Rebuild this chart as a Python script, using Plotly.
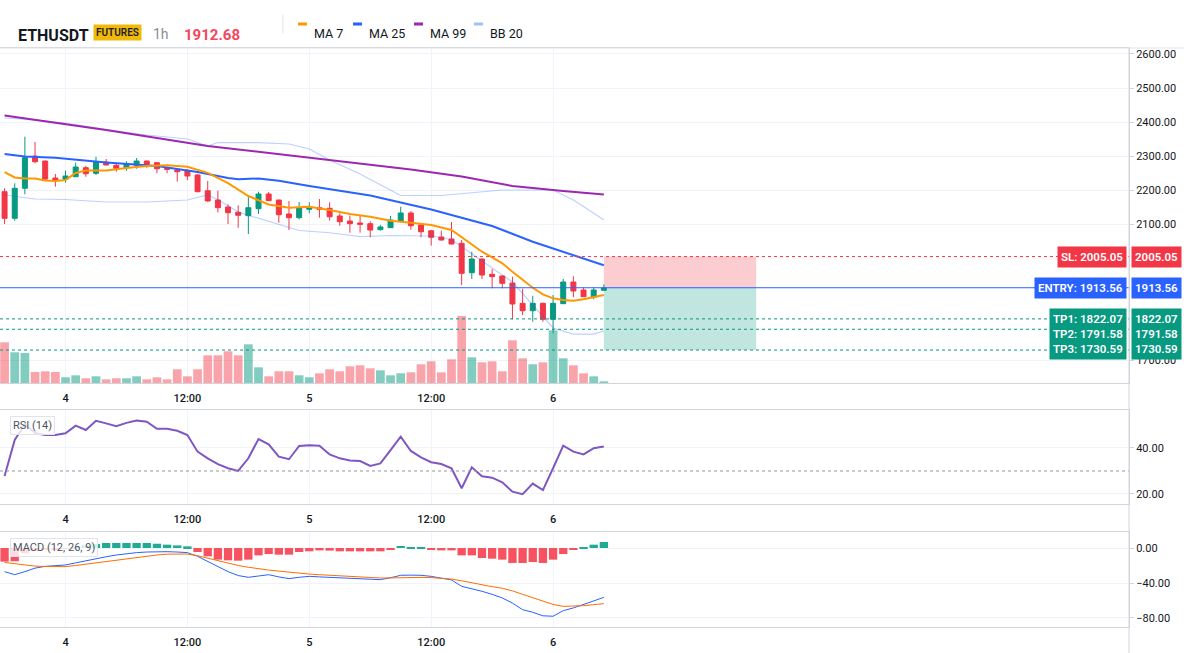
import pandas as pd
import plotly.graph_objects as go

# ---- values (hourly ETHUSDT bars) ----
first_bar = "2023-06-03 18:00"

open_ = [2195.6, 2117.4, 2205.6, 2300.4, 2285.7, 2235.8, 2232.0, 2239.6, 2266.1, 2249.6,
         2282.8, 2273.1, 2266.1, 2273.1, 2285.7, 2280.8, 2264.3, 2259.3, 2256.4, 2244.6,
         2198.5, 2171.2, 2150.6, 2135.1, 2125.1, 2145.6, 2188.8, 2171.2, 2130.1, 2119.2,
         2143.9, 2148.6, 2146.8, 2124.2, 2109.5, 2103.6, 2101.6, 2084.0, 2090.0, 2109.5,
         2133.0, 2097.8, 2081.0, 2062.5, 2056.7, 2044.0, 1957.7, 1997.9, 1953.0, 1948.0,
         1927.4, 1867.8, 1846.1, 1867.8, 1820.8, 1866.7, 1930.4, 1906.9, 1885.4, 1906.0]
high = [2205.6, 2220.3, 2357.1, 2341.6, 2287.0, 2247.6, 2257.3, 2280.8, 2272.0, 2298.4,
        2291.6, 2279.0, 2284.9, 2294.5, 2287.0, 2283.0, 2266.0, 2261.0, 2262.2, 2247.6,
        2227.0, 2198.5, 2158.6, 2155.6, 2185.9, 2195.6, 2194.7, 2172.0, 2168.3, 2165.3,
        2164.4, 2174.1, 2164.4, 2132.2, 2125.1, 2125.1, 2108.6, 2098.0, 2124.2, 2151.5,
        2138.9, 2099.0, 2082.0, 2081.0, 2106.6, 2053.7, 2019.4, 2000.0, 1968.5, 1950.0,
        1946.0, 1910.7, 1890.1, 1870.0, 1892.2, 1939.2, 1947.1, 1914.8, 1914.8, 1923.6]
low = [2100.7, 2110.4, 2187.9, 2279.0, 2227.9, 2210.3, 2222.0, 2239.0, 2239.6, 2244.6,
       2273.0, 2254.3, 2257.3, 2263.1, 2266.1, 2249.6, 2249.6, 2225.0, 2229.9, 2194.0,
       2166.2, 2135.1, 2100.7, 2089.8, 2071.3, 2130.1, 2169.0, 2104.5, 2083.0, 2114.5,
       2132.2, 2119.2, 2110.4, 2095.7, 2075.2, 2075.2, 2061.7, 2082.0, 2089.0, 2108.0,
       2084.0, 2061.7, 2037.0, 2052.0, 2041.0, 1921.6, 1939.2, 1939.2, 1911.9, 1911.9,
       1820.8, 1833.4, 1813.8, 1813.8, 1780.0, 1866.0, 1886.3, 1886.0, 1879.6, 1905.0]
close = [2117.4, 2205.6, 2295.4, 2283.7, 2232.9, 2229.0, 2241.7, 2268.1, 2248.4, 2282.8,
         2274.0, 2264.3, 2277.0, 2285.7, 2276.0, 2263.1, 2261.4, 2254.3, 2241.7, 2195.6,
         2168.3, 2148.6, 2133.9, 2126.3, 2148.6, 2188.8, 2169.3, 2128.0, 2119.2, 2147.7,
         2148.6, 2143.9, 2122.1, 2107.5, 2101.6, 2099.8, 2083.0, 2092.0, 2112.5, 2133.0,
         2095.7, 2078.1, 2061.7, 2053.7, 2042.0, 1955.9, 1997.9, 1950.9, 1946.0, 1926.6,
         1865.8, 1846.1, 1867.8, 1820.8, 1867.8, 1930.4, 1904.0, 1887.2, 1906.9, 1912.68]
# volume, thousands
volume = [40.7, 30.7, 30.0, 11.0, 11.7, 11.0, 5.7, 7.7, 4.7, 6.7,
          3.7, 4.7, 4.7, 6.7, 3.7, 5.7, 3.7, 13.7, 6.7, 13.7,
          27.7, 27.7, 31.7, 27.7, 38.7, 15.7, 6.7, 11.7, 11.7, 7.7,
          5.7, 9.7, 13.7, 11.7, 16.7, 17.7, 14.7, 12.7, 7.7, 9.7,
          10.7, 18.7, 21.7, 10.7, 23.7, 67.0, 25.7, 20.7, 21.7, 11.7,
          42.7, 24.7, 18.7, 20.7, 52.7, 24.7, 17.7, 9.7, 6.7, 1.7]

# moving averages / bands, read at selected bars (bar number, value)
ma7_idx = [0, 1, 2, 3, 4, 5, 6, 7, 8, 10, 12, 14, 16, 18, 20, 22, 24, 26, 28, 30, 32, 34, 36,
           38, 40, 42, 44, 45, 46, 47, 48, 49, 50, 51, 52, 53, 54, 55, 56, 57, 58, 59]
ma7 = [2253.4, 2237.3, 2234.3, 2234.3, 2228.5, 2227.0, 2229.9, 2250.5, 2257.8, 2257.8, 2265.2,
       2271.1, 2273.1, 2269.0, 2251.0, 2221.0, 2183.0, 2158.0, 2148.6, 2151.5, 2142.0, 2130.0,
       2122.0, 2110.5, 2104.5, 2097.8, 2083.0, 2061.7, 2039.0, 2019.4, 2002.9, 1985.3, 1960.6,
       1936.2, 1913.6, 1894.2, 1882.5, 1877.5, 1875.4, 1879.6, 1885.4, 1892.2]
ma25_idx = [0, 2, 5, 10, 15, 19, 22, 23, 25, 27, 30, 36, 42, 48, 52, 56, 59]
ma25 = [2306.3, 2298.9, 2295.4, 2281.3, 2271.1, 2253.4, 2236.0, 2232.0, 2234.3, 2228.0,
        2212.3, 2184.4, 2143.3, 2094.8, 2048.7, 2008.8, 1979.4]
ma99_idx = [0, 10, 20, 30, 40, 45, 50, 55, 59]
ma99 = [2419.4, 2376.8, 2329.8, 2295.4, 2260.8, 2240.2, 2212.3, 2198.0, 2187.4]
bbu_idx = [0, 3, 6, 10, 14, 18, 20, 21, 25, 28, 30, 32, 35, 37, 39, 43, 46, 49, 54, 56, 58, 59]
bbu = [2412.0, 2406.2, 2397.4, 2378.3, 2362.1, 2350.4, 2329.8, 2340.1, 2339.5, 2335.7, 2321.0,
       2288.7, 2247.6, 2215.0, 2184.4, 2184.4, 2193.3, 2200.6, 2200.6, 2171.0, 2132.2, 2112.5]
bbl_idx = [0, 3, 6, 10, 14, 18, 20, 21, 23, 25, 27, 29, 32, 35, 38, 42, 44, 46, 48, 50, 52,
           54, 56, 58, 59]
bbl = [2185.9, 2174.1, 2172.7, 2165.3, 2165.3, 2171.2, 2185.9, 2172.7, 2135.6, 2118.3, 2100.7,
       2081.6, 2075.1, 2063.9, 2066.9, 2065.5, 2055.2, 2012.6, 1971.5, 1930.4, 1862.8, 1795.3,
       1777.6, 1777.6, 1786.5]

rsi = [27.8, 43.5, 50.3, 46.5, 45.6, 45.6, 46.4, 49.7, 47.8, 51.8,
       50.7, 49.5, 50.9, 51.9, 51.4, 48.3, 48.3, 47.5, 45.6, 38.4,
       35.5, 33.0, 31.2, 30.0, 35.5, 43.9, 41.6, 36.2, 35.1, 40.9,
       41.2, 41.0, 37.2, 35.5, 34.6, 34.3, 32.2, 33.3, 39.1, 44.9,
       38.7, 35.9, 33.8, 33.0, 31.2, 22.5, 31.6, 27.7, 27.1, 25.1,
       21.0, 19.9, 24.5, 21.7, 31.2, 41.0, 38.4, 37.2, 39.9, 40.6]
macd = [-27.0, -30.5, -27.0, -23.0, -21.0, -20.0, -19.4, -17.0, -14.5, -12.5,
        -10.0, -8.0, -6.5, -5.3, -4.6, -4.3, -4.2, -4.6, -5.3, -9.5,
        -15.5, -21.5, -27.0, -31.5, -33.5, -32.0, -30.5, -33.0, -35.0, -33.5,
        -32.4, -33.0, -33.5, -34.5, -35.0, -35.8, -36.2, -36.2, -34.0, -31.2,
        -31.0, -31.2, -32.4, -34.5, -36.5, -43.8, -46.5, -49.5, -53.0, -57.1,
        -63.0, -70.5, -73.5, -77.5, -78.0, -71.6, -68.5, -64.8, -60.5, -56.4]
signal = [-16.5, -18.0, -19.8, -20.7, -21.1, -21.3, -21.3, -20.0, -18.5, -16.8,
          -15.0, -13.3, -11.8, -10.5, -9.3, -8.0, -7.0, -6.8, -6.9, -8.8,
          -11.5, -14.5, -17.5, -20.0, -22.0, -23.8, -25.2, -26.4, -27.8, -29.0,
          -29.8, -30.5, -31.2, -32.0, -32.5, -33.2, -34.0, -34.3, -34.2, -33.8,
          -33.5, -33.6, -33.8, -34.3, -35.5, -37.5, -40.0, -42.0, -44.2, -46.0,
          -49.0, -53.0, -57.0, -61.0, -64.5, -66.7, -66.5, -65.9, -64.8, -63.6]
hist = [-15.6, -15.2, -6.0, -3.5, -2.0, -1.2, -0.6, 1.5, 3.0, 4.5,
        5.7, 5.7, 5.7, 5.7, 5.7, 4.9, 3.8, 3.0, 1.9, -4.6,
        -9.5, -13.3, -14.1, -14.5, -13.3, -8.4, -6.9, -7.6, -7.6, -4.6,
        -3.8, -2.7, -3.0, -3.8, -3.8, -3.8, -3.8, -3.8, -1.5, 2.3,
        1.1, 1.1, -1.9, -2.7, -2.7, -8.4, -8.4, -11.4, -12.2, -13.3,
        -17.1, -17.1, -16.0, -17.1, -13.3, -6.9, -1.9, 1.1, 3.8, 6.9]

# trade levels
sl, entry = 2005.05, 1913.56
tps = [1822.07, 1791.58, 1730.59]

price_ticks = [1700, 2100, 2200, 2300, 2400, 2500, 2600]
tick_times = ["2023-06-04 00:00", "2023-06-04 12:00", "2023-06-05 00:00",
              "2023-06-05 12:00", "2023-06-06 00:00"]
tick_text = ["4", "12:00", "5", "12:00", "6"]

# ---- style ----
W, H = 1184, 653
ML, MR, MT, MB = 0, 55, 48, 26
UP, DOWN = "#089981", "#f23645"
BLUE = "#2962ff"
FONT = "Roboto"
TXT = "#131722"
GRID = "#f0f3fa"
LINE = "#d1d4dc"
rr_bars = 15  # width of the risk/reward box, in bars


def px(x):
    return (x - ML) / (W - ML - MR)


def py(y):
    return (H - MB - y) / (H - MT - MB)


t = pd.date_range(first_bar, periods=len(close), freq="h")
hour = pd.Timedelta(hours=1)
ms_hour = 3600 * 1000


def at(idx):
    return [t[i] for i in idx]


fig = go.Figure()

# volume underneath the candles
vcol = ["rgba(8,153,129,0.5)" if c >= o else "rgba(242,54,69,0.45)" for o, c in zip(open_, close)]
fig.add_bar(x=t, y=volume, marker=dict(color=vcol, line=dict(width=0)),
            width=0.86 * ms_hour, xaxis="x", yaxis="y5", hoverinfo="skip")

fig.add_candlestick(x=t, open=open_, high=high, low=low, close=close,
                    increasing=dict(line=dict(color=UP, width=1), fillcolor=UP),
                    decreasing=dict(line=dict(color=DOWN, width=1), fillcolor=DOWN),
                    whiskerwidth=0, xaxis="x", yaxis="y")

for idx, vals, color, width in [(bbu_idx, bbu, "rgba(41,98,255,0.3)", 1.2),
                                (bbl_idx, bbl, "rgba(41,98,255,0.3)", 1.2),
                                (ma99_idx, ma99, "#9c27b0", 2),
                                (ma25_idx, ma25, BLUE, 2),
                                (ma7_idx, ma7, "#ff9800", 2)]:
    fig.add_scatter(x=at(idx), y=vals, mode="lines", line=dict(color=color, width=width),
                    xaxis="x", yaxis="y", hoverinfo="skip")

# RSI
fig.add_scatter(x=t, y=rsi, mode="lines", line=dict(color="#7e57c2", width=2),
                xaxis="x2", yaxis="y2", hoverinfo="skip")

# MACD
hcol = ["#22ab94" if v >= 0 else "#f7525f" for v in hist]
fig.add_bar(x=t, y=hist, marker=dict(color=hcol, line=dict(width=0)),
            width=0.82 * ms_hour, xaxis="x3", yaxis="y3", hoverinfo="skip")
fig.add_scatter(x=t, y=macd, mode="lines", line=dict(color=BLUE, width=1),
                xaxis="x3", yaxis="y3", hoverinfo="skip")
fig.add_scatter(x=t, y=signal, mode="lines", line=dict(color="#ff6d00", width=1),
                xaxis="x3", yaxis="y3", hoverinfo="skip")

# ---- axes ----
xstyle = dict(type="date", tickvals=tick_times, ticktext=tick_text, showgrid=True,
              gridcolor=GRID, showline=True, linecolor=LINE, mirror=True, ticks="",
              tickfont=dict(family=FONT, size=11, color=TXT, weight=500),
              ticklabelstandoff=5, zeroline=False, fixedrange=True)
ystyle = dict(side="right", showgrid=True, gridcolor=GRID, showline=True, linecolor=LINE,
              ticks="outside", ticklen=4, tickcolor=LINE, tickformat=".2f", zeroline=False,
              tickfont=dict(family=FONT, size=11, color=TXT))

x_range = [t[0] - 0.45 * hour, t[0] + 110.7 * hour]

fig.update_layout(
    width=W, height=H,
    margin=dict(l=ML, r=MR, t=MT, b=MB),
    paper_bgcolor="white", plot_bgcolor="white",
    showlegend=False, hovermode=False,
    font=dict(family=FONT, color=TXT),
    xaxis=dict(xstyle, domain=[0, 1], anchor="y", range=x_range,
               rangeslider=dict(visible=False)),
    xaxis2=dict(xstyle, domain=[0, 1], anchor="y2", matches="x"),
    xaxis3=dict(xstyle, domain=[0, 1], anchor="y3", matches="x"),
    yaxis=dict(ystyle, domain=[py(383), py(48)], anchor="x",
               range=[1633.8, 2617.6], tickvals=price_ticks),
    yaxis5=dict(overlaying="y", anchor="x", range=[0, max(volume) * 5], visible=False),
    yaxis2=dict(ystyle, domain=[py(504), py(410)], anchor="x2",
                range=[15.65, 56.5], tickvals=[20, 40]),
    yaxis3=dict(ystyle, domain=[py(627), py(532)], anchor="x3",
                range=[-90.3, 18.3], tickvals=[-80, -40, 0]),
)

# ---- trade box and level lines ----
t_end = t[-1] + rr_bars * hour
fig.add_shape(type="rect", xref="x", yref="y", x0=t[-1], x1=t_end, y0=entry, y1=sl,
              fillcolor="rgba(242,54,69,0.25)", line=dict(width=0), layer="between")
fig.add_shape(type="rect", xref="x", yref="y", x0=t[-1], x1=t_end, y0=tps[-1], y1=entry,
              fillcolor="rgba(8,153,129,0.25)", line=dict(width=0), layer="between")
fig.add_shape(type="line", xref="x domain", yref="y", x0=0, x1=1, y0=sl, y1=sl,
              line=dict(color=DOWN, width=1, dash="dot"), layer="above")
for v in tps:
    fig.add_shape(type="line", xref="x domain", yref="y", x0=0, x1=1, y0=v, y1=v,
                  line=dict(color=UP, width=1, dash="dot"), layer="above")
fig.add_shape(type="line", xref="x domain", yref="y", x0=0, x1=1, y0=entry, y1=entry,
              line=dict(color=BLUE, width=1), layer="above")
fig.add_shape(type="line", xref="x2 domain", yref="y2", x0=0, x1=1, y0=30, y1=30,
              line=dict(color="#9598a1", width=1, dash="dot"))

# frame lines: header rule and price-scale border
fig.add_shape(type="line", xref="paper", yref="paper", x0=0, x1=px(W), y0=py(48), y1=py(48),
              line=dict(color="#e0e3eb", width=1))
fig.add_shape(type="line", xref="paper", yref="paper", x0=1, x1=1, y0=py(H), y1=py(48),
              line=dict(color=LINE, width=1))

# ---- price tags on the right ----
tag_font = dict(family=FONT, size=11.5, color="white", weight=600)


def tag(text, y, color, left, yanchor="middle", yshift=0):
    fig.add_annotation(text=text, xref="paper", yref="y", x=px(1127 if left else 1131),
                       xanchor="right" if left else "left", y=y, yanchor=yanchor,
                       yshift=yshift, showarrow=False, bgcolor=color, borderpad=3,
                       align="right" if left else "left", font=tag_font)


tag(f"SL: {sl:.2f}", sl, DOWN, True)
tag(f"{sl:.2f}", sl, DOWN, False)
tag(f"ENTRY: {entry:.2f}", entry, BLUE, True)
tag(f"{entry:.2f}", entry, BLUE, False)
tag("<br>".join(f"TP{k + 1}: {v:.2f}" for k, v in enumerate(tps)), tps[0], UP, True,
    yanchor="top", yshift=11)
tag("<br>".join(f"{v:.2f}" for v in tps), tps[0], UP, False, yanchor="top", yshift=11)

# ---- pane captions ----
for text, y in [("RSI (14)", 425), ("MACD (12, 26, 9)", 547)]:
    fig.add_annotation(text=text, xref="paper", yref="paper", x=px(10), y=py(y),
                       xanchor="left", yanchor="middle", showarrow=False,
                       bgcolor="rgba(255,255,255,0.8)", bordercolor="#e0e3eb",
                       borderwidth=1, borderpad=2,
                       font=dict(family=FONT, size=11, color="#50535e"))

# ---- header ----
hy = py(24)
fig.add_annotation(text="ETHUSDT", xref="paper", yref="paper", x=px(16), y=hy,
                   xanchor="left", showarrow=False,
                   font=dict(family=FONT, size=16, color=TXT, weight="bold"))
fig.add_annotation(text="FUTURES", xref="paper", yref="paper", x=px(93), y=hy,
                   xanchor="left", showarrow=False, bgcolor="#f0b90b", borderpad=2,
                   font=dict(family=FONT, size=10, color="#1e2026", weight=600))
fig.add_annotation(text="1h", xref="paper", yref="paper", x=px(151), y=hy,
                   xanchor="left", showarrow=False,
                   font=dict(family=FONT, size=14, color="#848e9c"))
fig.add_annotation(text="1912.68", xref="paper", yref="paper", x=px(182), y=hy,
                   xanchor="left", showarrow=False,
                   font=dict(family=FONT, size=15, color="#f6465d", weight="bold"))
fig.add_shape(type="line", xref="paper", yref="paper", x0=px(283), x1=px(283),
              y0=py(15), y1=py(33), line=dict(color="#e0e3eb", width=1))

legend = [("MA 7", "#ff9800", 298), ("MA 25", BLUE, 353),
          ("MA 99", "#9c27b0", 414), ("BB 20", "#a3bffa", 474)]
for name, color, x in legend:
    fig.add_shape(type="rect", xref="paper", yref="paper", x0=px(x), x1=px(x + 9),
                  y0=py(25.5), y1=py(22.5), fillcolor=color, line=dict(width=0))
    fig.add_annotation(text=name, xref="paper", yref="paper", x=px(x + 14), y=hy,
                       xanchor="left", showarrow=False,
                       font=dict(family=FONT, size=12.5, color=TXT))

# the page's default 8px body margin would push the chart off the window
fig.write_html("out.html", config={"displayModeBar": False},
               post_script="document.body.style.margin = '0px';")
